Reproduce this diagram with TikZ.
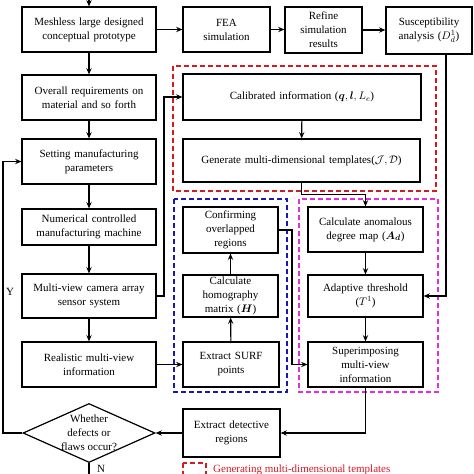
\documentclass[tikz,border=0pt]{standalone}
\usepackage{amsmath,bm}
\usepackage{fontspec}
\setmainfont{Liberation Serif}
\usetikzlibrary{arrows.meta,shapes.geometric}
\definecolor{lred}{RGB}{215,25,35}
\definecolor{lblue}{RGB}{25,25,175}
\definecolor{lmag}{RGB}{225,45,225}
\begin{document}
\begin{tikzpicture}[x=1pt,y=1pt,
  box/.style={draw, line width=1.2pt, align=center, inner sep=1pt,
    font=\fontsize{11}{14}\selectfont},
  arr/.style={-{Stealth[length=6.5pt,width=5.5pt,inset=2.5pt]}, line width=1.1pt},
  ln/.style={line width=1.1pt},
  grp/.style={line width=1.5pt, dash pattern=on 5pt off 3pt}]
\clip (0,0) rectangle (474,-474);
\useasboundingbox (0,0) rectangle (474,-474);
% left column
\node[box, minimum width=134pt, minimum height=45pt, text width=130pt] (mesh) at (89,-29.5) {Meshless large designed\\conceptual prototype};
\node[box, minimum width=134pt, minimum height=45pt, text width=130pt] (over) at (89,-97.5) {Overall requirements on\\material and so forth};
\node[box, minimum width=134pt, minimum height=45pt, text width=130pt] (set) at (89,-161.5) {Setting manufacturing\\parameters};
\node[box, minimum width=134pt, minimum height=36pt, text width=130pt] (num) at (89,-227) {Numerical controlled\\manufacturing machine};
\node[box, minimum width=134pt, minimum height=44pt, text width=130pt] (mv) at (89,-296) {Multi-view camera array\\sensor system};
\node[box, minimum width=134pt, minimum height=45pt, text width=130pt] (real) at (89,-364.5) {Realistic multi-view\\information};
\node[draw, diamond, line width=1.2pt, minimum width=132pt, minimum height=59pt, inner sep=0pt] (dia) at (89,-433) {};
\node[align=center, font=\fontsize{11}{14}\selectfont] (diat) at (89,-433) {Whether\\defects or\\flaws occur?};
% top row
\node[box, minimum width=87pt, minimum height=45pt, text width=84pt] (fea) at (226.5,-29.5) {FEA\\simulation};
\node[box, minimum width=77pt, minimum height=46pt, text width=74pt] (ref) at (323.5,-30) {Refine\\simulation\\results};
\node[box, minimum width=86pt, minimum height=47pt, text width=84pt] (sus) at (429,-30.5) {Susceptibility\\analysis~($D_d^{1}$)};
% red group
\node[box, minimum width=238pt, minimum height=46pt, text width=232pt] (cal) at (302,-97) {Calibrated information ($\bm{q}, \bm{l}, L_e$)};
\node[box, minimum width=237pt, minimum height=43pt, text width=232pt] (gen) at (301.5,-160.5) {Generate multi-dimensional templates($\mathcal{J},\mathcal{D}$)};
% blue group
\node[box, minimum width=95pt, minimum height=46pt, text width=92pt] (conf) at (230.5,-230) {Confirming\\overlapped\\regions};
\node[box, minimum width=95pt, minimum height=42pt, text width=92pt] (hom) at (230.5,-296) {Calculate\\homography\\matrix ($\bm{H}$)};
\node[box, minimum width=96pt, minimum height=45pt, text width=92pt] (surf) at (231,-364.5) {Extract SURF\\points};
% magenta group
\node[box, minimum width=115pt, minimum height=45pt, text width=112pt] (anom) at (365.5,-229.5) {Calculate anomalous\\degree map ($\bm{A_d}$)};
\node[box, minimum width=115pt, minimum height=42pt, text width=112pt] (adap) at (365.5,-296) {Adaptive threshold\\($T^{1}$)};
\node[box, minimum width=115pt, minimum height=45pt, text width=112pt] (sup) at (365.5,-364.5) {Superimposing\\multi-view\\information};
\node[box, minimum width=97pt, minimum height=48pt, text width=94pt] (det) at (231.5,-433) {Extract detective\\regions};
% group frames
\draw[grp, lred] (173,-66) rectangle (436,-191);
\draw[grp, lblue] (174,-199) rectangle (287,-392);
\draw[grp, lmag] (299,-199) rectangle (438,-392);
% legend
\draw[grp, lred] (183,-463) rectangle (206,-490);
\node[anchor=base west, text=lred, inner sep=0pt, font=\fontsize{11}{14}\selectfont] (leg) at (213,-472) {Generating multi-dimensional templates};
% helper coordinates
\coordinate (top) at (89,6);
\coordinate (k1) at (164,0);
\coordinate (k2) at (292,0);
\coordinate (k3) at (3,0);
\coordinate (k4) at (446,0);
\coordinate (bot) at (89,-480);
% connectors
\draw[arr] (top) -- (mesh.north);
\draw[arr] (mesh) -- (over);
\draw[arr] (over) -- (set);
\draw[arr] (set) -- (num);
\draw[arr] (num) -- (mv);
\draw[arr] (mv) -- (real);
\draw[arr] (mesh.east) -- (mesh.east -| fea.west);
\draw[arr] (fea.east) -- (fea.east -| ref.west);
\draw[arr] (ref.east) -- (ref.east -| sus.west);
\draw[arr] (sus.south -| k4) -- (k4 |- adap.east) -- (adap.east);
\draw[arr] (mv.east) -- (mv.east -| k1) -- (k1 |- cal.west) -- (cal.west);
\draw[arr] (cal) -- (gen);
\draw[arr] (gen.south) -- ++(0,-12) -| (anom.north);
\draw[arr] (anom) -- (adap);
\draw[arr] (adap) -- (sup);
\draw[arr] (real.east) -- (real.east -| surf.west);
\draw[arr] (surf) -- (hom);
\draw[arr] (hom) -- (conf);
\draw[arr] (conf.east) -- (conf.east -| k2) -- (k2 |- sup.west) -- (sup.west);
\draw[arr] (sup.south) |- (det.east);
\draw[arr] (det.west) -- (dia.east);
\draw[arr] (dia.west) -- (dia.west -| k3) -- (k3 |- set.west) -- (set.west);
\draw[ln] (dia.south) -- (bot);
\node[font=\fontsize{11}{14}\selectfont, inner sep=0pt] (ylab) at (10,-292) {Y};
\node[font=\fontsize{11}{14}\selectfont, anchor=north, inner sep=0pt] (nlab) at (101,-465) {N};
\end{tikzpicture}
\end{document}
